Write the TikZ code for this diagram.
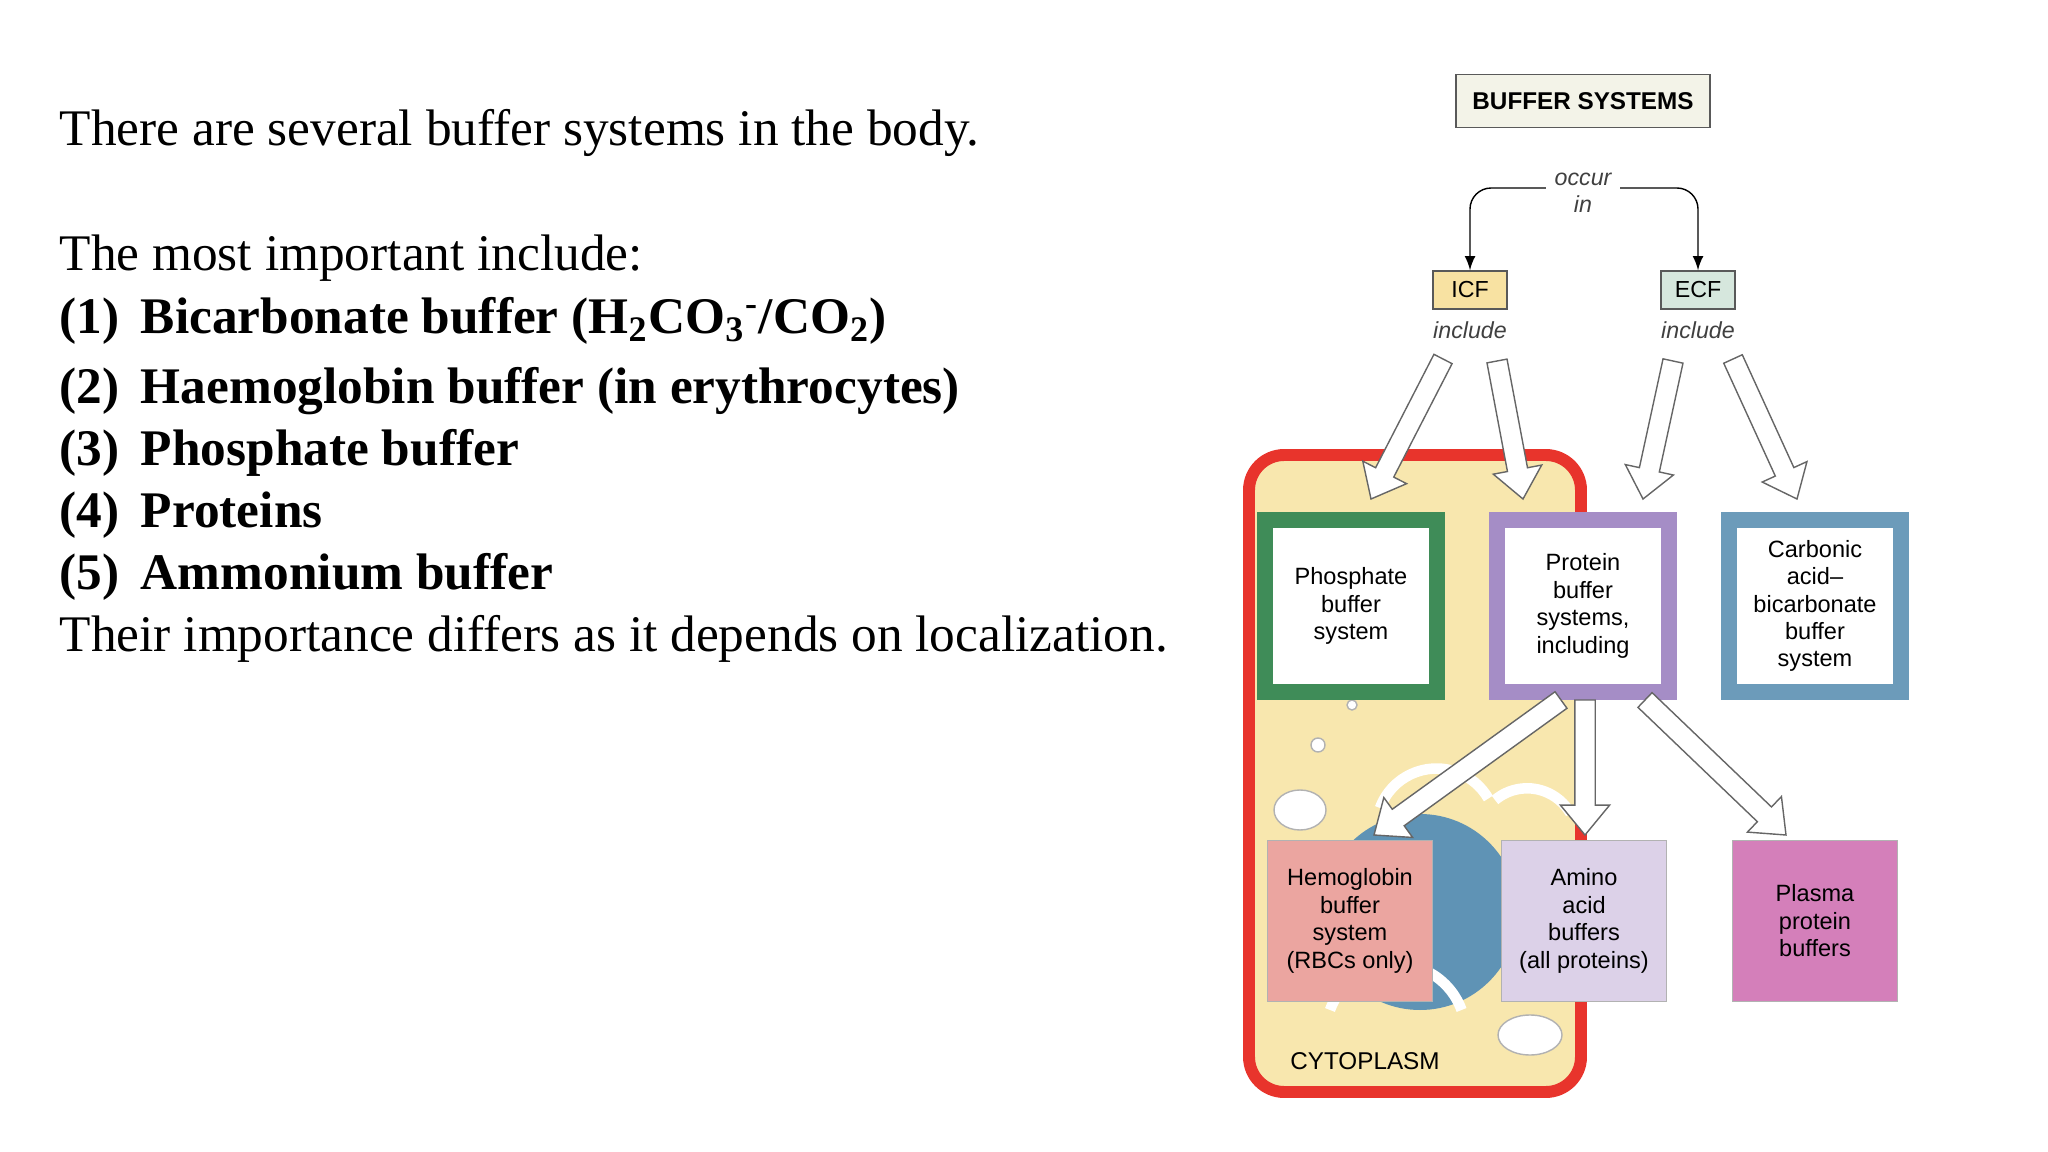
\documentclass[tikz,border=0pt]{standalone}
\usepackage{fontspec}
\setmainfont{Liberation Serif}
\newfontfamily\diag{Liberation Sans}
\usetikzlibrary{calc, positioning}
\definecolor{cytoFill}{HTML}{F8E7AE}
\definecolor{cytoRed}{HTML}{E8342C}
\definecolor{phosGreen}{HTML}{3F8C58}
\definecolor{protPurple}{HTML}{A58DC6}
\definecolor{carbBlue}{HTML}{6C9BBA}
\definecolor{hemoFill}{HTML}{EBA5A0}
\definecolor{aminoFill}{HTML}{DCD1E8}
\definecolor{plasmaFill}{HTML}{D47FBA}
\definecolor{icfFill}{HTML}{F8E2A2}
\definecolor{ecfFill}{HTML}{D6E7DD}
\definecolor{topFill}{HTML}{F3F3E8}
\definecolor{nucBlue}{HTML}{5F93B5}
\tikzset{
    txtLine/.style={anchor=west, inner sep=0pt, font=\fontsize{14.6}{16}\selectfont},
    labBox/.style={draw=gray!70!black, thin, inner sep=0pt, font=\diag\fontsize{6.6}{7.4}\selectfont},
    frameBox/.style={draw=#1, line width=4.6pt, fill=white, inner sep=0pt, minimum width=1.72cm, minimum height=1.72cm, align=center, font=\diag\fontsize{6.7}{7.8}\selectfont},
    fillBox/.style={draw=gray!60, thin, fill=#1, inner sep=0pt, minimum width=1.65cm, minimum height=1.61cm, align=center, font=\diag\fontsize{6.7}{7.8}\selectfont},
    tagText/.style={inner sep=0pt, font=\diag\itshape\fontsize{6.6}{7.6}\selectfont, text=black!75, align=center},
    thinArrow/.style={->, >=latex, thin, rounded corners=6pt},
    fatArrow/.style={draw=gray!80!black, thin, fill=white, line join=miter},
    organelle/.style={draw=gray!60, fill=white, line width=0.4pt},
}
\newcommand{\fatArrow}[2]{
    % hollow block arrow from #1 to #2
    \coordinate (fa-h) at ($(#2)!8.5pt!(#1)$);
    \draw[fatArrow] ($(#1)!2.9pt!90:(#2)$) -- ($(fa-h)!2.9pt!-90:(#1)$) -- ($(fa-h)!7pt!-90:(#1)$) -- (#2)
        -- ($(fa-h)!7pt!90:(#1)$) -- ($(fa-h)!2.9pt!90:(#1)$) -- ($(#1)!2.9pt!-90:(#2)$) -- cycle;
}
\begin{document}
\begin{tikzpicture}[x=0.01cm, y=-0.01cm]
    \useasboundingbox (0,0) rectangle (2048,1152);

    % left text
    \node[txtLine] (t1) at (59,133) {There are several buffer systems in the body.};
    \node[txtLine] (t2) at (59,258) {The most important include:};
    \node[txtLine] (t3) at (59,321) {\textbf{(1)\, Bicarbonate buffer (H\textsubscript{2}CO\textsubscript{3}\textsuperscript{-}/CO\textsubscript{2})}};
    \node[txtLine] (t4) at (59,391) {\textbf{(2)\, Haemoglobin buffer (in erythrocytes)}};
    \node[txtLine] (t5) at (59,453) {\textbf{(3)\, Phosphate buffer}};
    \node[txtLine] (t6) at (59,515) {\textbf{(4)\, Proteins}};
    \node[txtLine] (t7) at (59,577) {\textbf{(5)\, Ammonium buffer}};
    \node[txtLine] (t8) at (59,639) {Their importance differs as it depends on localization.};

    % cytoplasm scene
    \draw[cytoRed, line width=3.4pt, fill=cytoFill, rounded corners=10pt] (1249,455) rectangle (1581,1092);
    \fill[nucBlue] (1420,912) circle (98);
    \draw[organelle] (1300,810) ellipse (26 and 20);
    \draw[organelle] (1530,1035) ellipse (32 and 20);
    \draw[organelle] (1318,745) circle (7);
    \draw[organelle] (1352,705) circle (5);
    \draw[white, line width=3pt] (1380,808) arc (200:330:60);
    \draw[white, line width=3pt] (1330,1010) arc (200:340:70);
    \draw[white, line width=3pt] (1495,800) arc (230:330:50);
    \node[inner sep=0pt, font=\diag\fontsize{6.9}{8}\selectfont] (cyto) at (1365,1061) {CYTOPLASM};

    % top
    \node[labBox, fill=topFill, minimum width=2.54cm, minimum height=0.53cm, font=\diag\bfseries\fontsize{6.9}{8}\selectfont] (top) at (1583,101) {BUFFER SYSTEMS};
    \node[tagText] (occur) at (1583,193) {occur\\in};
    \node[labBox, fill=icfFill, minimum width=0.74cm, minimum height=0.38cm] (icf) at (1470,290) {ICF};
    \node[labBox, fill=ecfFill, minimum width=0.74cm, minimum height=0.38cm] (ecf) at (1698,290) {ECF};
    \node[tagText] (icfInc) at (1470,330) {include};
    \node[tagText] (ecfInc) at (1698,330) {include};
    \draw[thinArrow] (occur.west) ++(-8,-5) coordinate (oL) -| (icf.north);
    \draw[thinArrow] (occur.east) ++(8,-5) coordinate (oR) -| (ecf.north);

    % middle boxes
    \node[frameBox=phosGreen] (phos) at (1351,606) {Phosphate\\buffer\\system};
    \node[frameBox=protPurple] (prot) at (1583,606) {Protein\\buffer\\systems,\\including};
    \node[frameBox=carbBlue] (carb) at (1815,606) {Carbonic\\acid\textendash\\bicarbonate\\buffer\\system};

    % bottom boxes
    \node[fillBox=hemoFill] (hemo) at (1350,921) {Hemoglobin\\buffer\\system\\(RBCs only)};
    \node[fillBox=aminoFill] (amino) at (1584,921) {Amino\\acid\\buffers\\(all proteins)};
    \node[fillBox=plasmaFill] (plasma) at (1815,921) {Plasma\\protein\\buffers};

    % hollow arrows
    \coordinate (a1s) at (1443,359); \coordinate (a1e) at (1371,499);
    \coordinate (a2s) at (1497,361); \coordinate (a2e) at (1523,499);
    \coordinate (a3s) at (1673,361); \coordinate (a3e) at (1643,499);
    \coordinate (a4s) at (1733,359); \coordinate (a4e) at (1797,499);
    \coordinate (a5s) at (1561,700); \coordinate (a5e) at (1374,835);
    \coordinate (a6s) at (1585,700); \coordinate (a6e) at (1585,835);
    \coordinate (a7s) at (1645,700); \coordinate (a7e) at (1786,835);
    \foreach \i in {1,...,7}{\fatArrow{a\i s}{a\i e}}
\end{tikzpicture}
\end{document}
